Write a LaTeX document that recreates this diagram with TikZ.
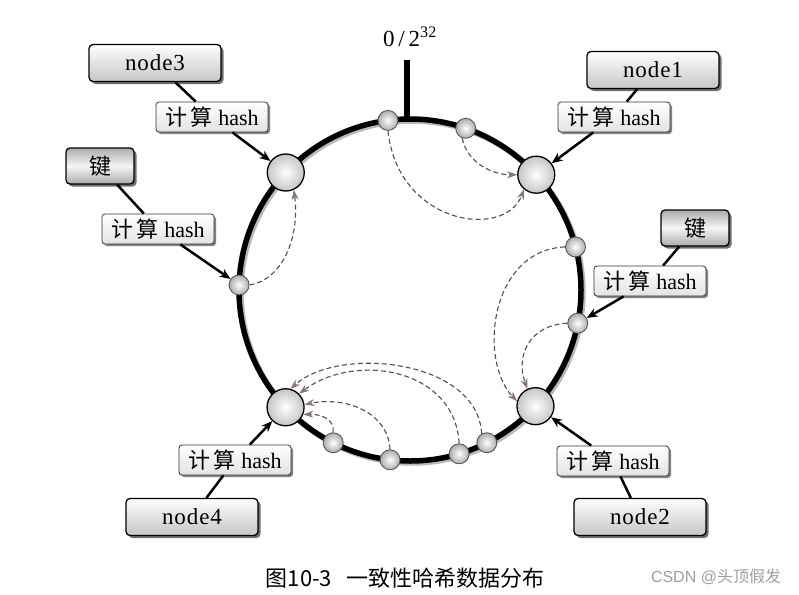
\documentclass[tikz,border=0pt]{standalone}
\usepackage{fontspec}
\setmainfont{Liberation Serif}
\newfontfamily\cjk{Noto Sans CJK SC}
\newfontfamily\boxfont[LetterSpace=4]{Liberation Serif}
\newfontfamily\wmfont{Liberation Sans}
\usetikzlibrary{calc,shadows,arrows.meta}
\definecolor{tipc}{RGB}{140,112,128}
\definecolor{dashc}{RGB}{80,80,80}
\tikzset{
  server/.style={circle, draw=black, line width=1.3pt, minimum size=37pt, inner sep=0pt,
    shading=radial, inner color=white, outer color=gray!45},
  keyball/.style={circle, draw=black!70, line width=0.8pt, minimum size=20pt, inner sep=0pt,
    shading=radial, inner color=white, outer color=gray!65},
  namebox/.style={draw=black, line width=1.3pt, rounded corners=4pt, minimum width=132pt,
    minimum height=37pt, inner sep=0pt, top color=white, bottom color=gray!45,
    drop shadow={shadow xshift=2.5pt, shadow yshift=-2.5pt, fill=black!70, opacity=0.8},
    font=\boxfont\fontsize{23}{27}\selectfont},
  keybox/.style={draw=black, line width=1.3pt, rounded corners=4pt, minimum width=68pt,
    minimum height=36pt, inner sep=0pt, top color=gray!65, bottom color=gray!65, middle color=gray!8,
    drop shadow={shadow xshift=2.5pt, shadow yshift=-2.5pt, fill=black!70, opacity=0.8},
    font=\cjk\fontsize{22}{26}\selectfont},
  hashbox/.style={draw=black!80, line width=0.8pt, rounded corners=3pt, minimum width=112pt,
    minimum height=30pt, inner sep=0pt, top color=white, bottom color=gray!22,
    drop shadow={shadow xshift=2pt, shadow yshift=-2pt, fill=black!60, opacity=0.8},
    font=\fontsize{22}{24}\selectfont},
  link/.style={line width=2.5pt, draw=black},
  feed/.style={link, -{Stealth[length=11pt,width=9pt]}},
  move/.style={draw=dashc, line width=1.1pt, dash pattern=on 5pt off 3pt,
    -{Stealth[length=10pt,width=7pt,color=tipc]}},
}
\newcommand{\hashtxt}{{\cjk 计\hspace{3pt}算}\hspace{6pt}hash}
\begin{document}
\begin{tikzpicture}[x=1pt,y=-1pt]
\useasboundingbox[fill=white] (0,0) rectangle (799,594);
\coordinate (C) at (410,290);
% ring
\draw[gray!55, line width=5.5pt] ($(C)+(2,2)$) circle (171);
\draw[black, line width=5.5pt] (C) circle (171);
% tick and label
\coordinate (tickTop) at (407,60);
\coordinate (tickBot) at (407,121);
\draw[line width=6pt] (tickTop) -- (tickBot);
\node (zero) at (410,37) {\fontsize{23}{25}\selectfont 0\,/\,2\textsuperscript{32}};
% servers
\node[server] (n3) at ($(C)+(-136.6:171)$) {};
\node[server] (n1) at ($(C)+(-42.4:171)$) {};
\node[server] (n4) at ($(C)+(136.7:171)$) {};
\node[server] (n2) at ($(C)+(42.8:171)$) {};
% keys
\node[keyball] (kA) at ($(C)+(-97.4:171)$) {};
\node[keyball] (kB) at ($(C)+(-71.0:171)$) {};
\node[keyball] (kC) at ($(C)+(-14.6:171)$) {};
\node[keyball] (kD) at ($(C)+(11.2:171)$) {};
\node[keyball] (kE) at ($(C)+(63.3:171)$) {};
\node[keyball] (kF) at ($(C)+(73.3:171)$) {};
\node[keyball] (kG) at ($(C)+(96.7:171)$) {};
\node[keyball] (kH) at ($(C)+(116.7:171)$) {};
\node[keyball] (kI) at ($(C)+(181.7:171)$) {};
% boxes
\node[namebox] (b3) at (155,63) {node3};
\node[namebox] (b1) at (653,70) {node1};
\node[namebox] (b4) at (192,517) {node4};
\node[namebox] (b2) at (640,517) {node2};
\node[keybox] (bL) at (100,166) {键};
\node[keybox] (bR) at (695,228) {键};
\node[hashbox] (h3) at (212,117) {\hashtxt};
\node[hashbox] (h1) at (614,117) {\hashtxt};
\node[hashbox] (hL) at (158,229) {\hashtxt};
\node[hashbox] (hR) at (650,281) {\hashtxt};
\node[hashbox] (h4) at (235,460) {\hashtxt};
\node[hashbox] (h2) at (613,461) {\hashtxt};
% solid connectors
\draw[link] (b3) -- (h3); \draw[feed] (h3) -- (n3);
\draw[link] (b1) -- (h1); \draw[feed] (h1) -- (n1);
\draw[link] (bL) -- (hL); \draw[feed] (hL) -- (kI);
\draw[link] (bR) -- (hR); \draw[feed] (hR) -- (kD);
\draw[link] (b4) -- (h4); \draw[feed] (h4) -- (n4);
\draw[link] (b2) -- (h2); \draw[feed] (h2) -- (n2);
% dashed moves
\draw[move] (kI.east) .. controls (282,280) and (300,238) .. (n3.-65);
\draw[move] (kA.south) .. controls (398,225) and (505,240) .. (n1.-130);
\draw[move] (kB.-110) .. controls (468,165) and (495,175) .. (n1.180);
\draw[move] (kC.west) .. controls (490,250) and (478,360) .. (n2.165);
\draw[move] (kD.west) .. controls (530,325) and (515,355) .. (n2.115);
\draw[move] (kE.120) .. controls (478,360) and (340,345) .. (n4.75);
\draw[move] (kF.north) .. controls (455,368) and (355,352) .. (n4.45);
\draw[move] (kG.north) .. controls (388,412) and (345,396) .. (n4.8);
\draw[move] (kH.north) .. controls (335,420) and (322,414) .. (n4.-22);
% caption
\node (cap) at (405,578) {\cjk\fontsize{22}{24}\selectfont 图10-3\hspace{14pt}一致性哈希数据分布};
\node[text=gray!75] (wm) at (716,577) {\fontsize{16}{18}\selectfont\wmfont CSDN @{\cjk 头顶假发}};
\end{tikzpicture}
\end{document}
